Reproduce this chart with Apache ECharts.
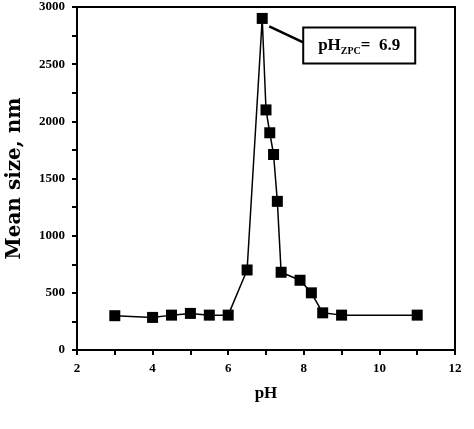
<!DOCTYPE html>
<html>
<head>
<meta charset="utf-8">
<script src="https://cdn.jsdelivr.net/npm/echarts@6/dist/echarts.min.js"></script>
<style>html,body{margin:0;padding:0;background:#fff;}#c{width:474px;height:429px;}</style>
</head>
<body>
<div id="c"></div>
<script>
const pH = [3, 4, 4.5, 5, 5.5, 6, 6.5, 6.9, 7.0, 7.1, 7.2, 7.3, 7.4, 7.9, 8.2, 8.5, 9, 11];
const meanSize = [300, 285, 305, 320, 305, 305, 700, 2900, 2100, 1900, 1710, 1300, 680, 610, 500, 325, 305, 305];
const xTicks = [2, 4, 6, 8, 10, 12];
const yTicks = [0, 500, 1000, 1500, 2000, 2500, 3000];
const annotationPoint = [6.9, 2900];

const font = 'Liberation Serif';
const chart = echarts.init(document.getElementById('c'));
chart.setOption({
  animation: false,
  grid: { left: 77, right: 19, top: 7, bottom: 79, show: true, borderColor: '#000', borderWidth: 2,
    containLabel: false, outerBoundsMode: 'none' },
  xAxis: {
    type: 'value', min: 2, max: 12, interval: 1,
    name: 'pH', nameLocation: 'middle', nameGap: 35,
    nameTextStyle: { fontFamily: font, fontWeight: 'bold', fontSize: 17, color: '#000' },
    axisLine: { lineStyle: { color: '#000', width: 2 } },
    axisTick: { show: true, inside: false, length: 5, lineStyle: { color: '#000', width: 2 } },
    axisLabel: { fontFamily: font, fontWeight: 'bold', fontSize: 13, color: '#000', margin: 12,
      formatter: v => xTicks.includes(v) ? String(v) : '' },
    splitLine: { show: false }
  },
  yAxis: {
    type: 'value', min: 0, max: 3000, interval: 250,
    name: 'Mean size, nm', nameLocation: 'middle', nameGap: 52,
    nameTextStyle: { fontFamily: 'DejaVu Serif', fontWeight: 'bold', fontSize: 20, color: '#000' },
    axisLine: { lineStyle: { color: '#000', width: 2 } },
    axisTick: { show: true, inside: false, length: 5, lineStyle: { color: '#000', width: 2 } },
    axisLabel: { fontFamily: font, fontWeight: 'bold', fontSize: 13, color: '#000', margin: 12,
      formatter: v => yTicks.includes(v) ? String(v) : '' },
    splitLine: { show: false }
  },
  series: [{
    type: 'line',
    data: pH.map((x, i) => [x, meanSize[i]]),
    symbol: 'rect', symbolSize: 11,
    itemStyle: { color: '#000' },
    lineStyle: { color: '#000', width: 1.5 }
  }]
});

const p = chart.convertToPixel({ gridIndex: 0 }, annotationPoint);
const bx = p[0] + 41, by = p[1] + 9, bw = 112, bh = 36;
chart.setOption({
  graphic: [
    { type: 'line', shape: { x1: p[0] + 7, y1: p[1] + 8, x2: bx, y2: by + 15 },
      style: { stroke: '#000', lineWidth: 2.5 } },
    { type: 'rect', shape: { x: bx, y: by, width: bw, height: bh },
      style: { fill: '#fff', stroke: '#000', lineWidth: 2 } },
    { type: 'text', x: bx + bw / 2, y: by + bh / 2,
      style: {
        text: '{a|pH}{s|ZPC}{a|=  6.9}',
        align: 'center', verticalAlign: 'middle',
        rich: {
          a: { fontFamily: font, fontWeight: 'bold', fontSize: 17, fill: '#000' },
          s: { fontFamily: font, fontWeight: 'bold', fontSize: 10, fill: '#000', verticalAlign: 'bottom', padding: [12, 0, 0, 0] }
        }
      } }
  ]
});
</script>
</body>
</html>
